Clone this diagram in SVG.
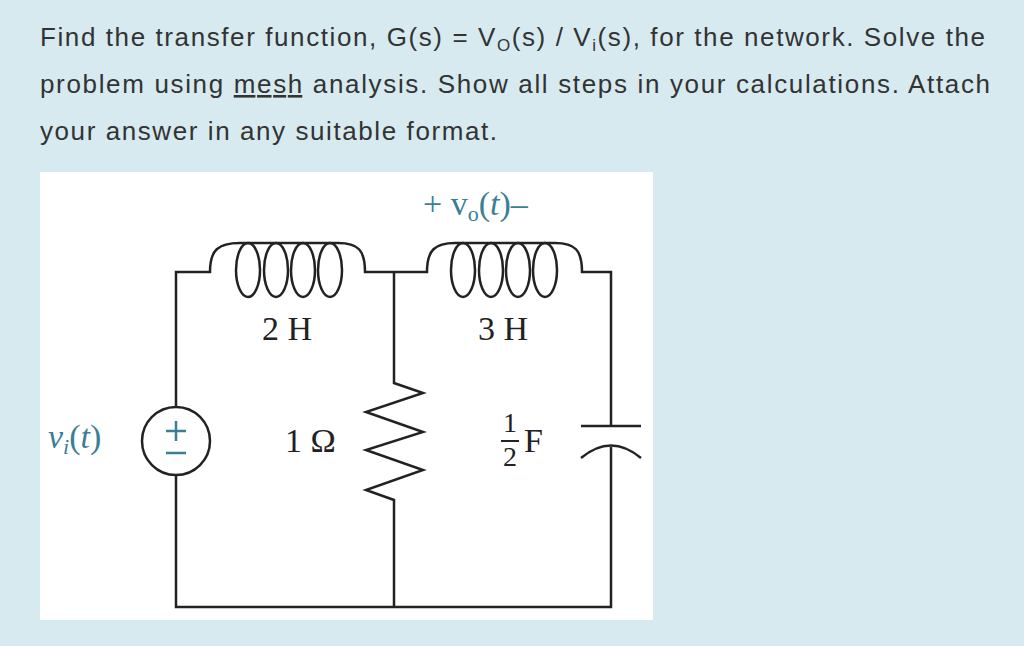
<svg xmlns="http://www.w3.org/2000/svg" width="1024" height="646" viewBox="0 0 1024 646">
<style>
.q{font-family:"Liberation Sans",Arial,sans-serif;font-size:26px;fill:#333}
.w{fill:none;stroke:#222;stroke-width:2.5}
.s{font-family:"Liberation Serif","Times New Roman",serif;font-size:34px;fill:#222}
.t{font-family:"Liberation Serif","Times New Roman",serif;font-size:34px;fill:#3a7f96}
</style>
<rect width="1024" height="646" fill="#d6eaf0"/>
<g id="question">
<text class="q" x="40" y="46" textLength="945" lengthAdjust="spacing">Find the transfer function, G(s) = V<tspan font-size="17" dy="5">O</tspan><tspan dy="-5">(s) / V</tspan><tspan font-size="17" dy="5">i</tspan><tspan dy="-5">(s), for the network. Solve the</tspan></text>
<text class="q" x="40" y="93" textLength="950" lengthAdjust="spacing">problem using <tspan text-decoration="underline">mesh</tspan> analysis. Show all steps in your calculations. Attach</text>
<text class="q" x="40" y="140" textLength="457" lengthAdjust="spacing">your answer in any suitable format.</text>
</g>
<rect x="40" y="172" width="613" height="448" fill="#fff"/>
<g id="connectors">
<path class="w" d="M176,407 V272 H210 C210,250 218,243 240,243 H338 C358,243 365,250 365,272 H427 C427,250 435,243 455,243 H555 C575,243 582,250 582,272 H611 V426"/>
<path class="w" d="M394,272 V383 L423,393 L366,412 L423,432 L366,450 L423,470 L366,490 L394,500 V607"/>
<path class="w" d="M176,475 V607 H611 V447"/>
</g>
<g id="L1" class="w">
<ellipse cx="248" cy="270" rx="12" ry="27"/><ellipse cx="276" cy="270" rx="12" ry="27"/><ellipse cx="303" cy="270" rx="12" ry="27"/><ellipse cx="330" cy="270" rx="12" ry="27"/>
</g>
<g id="L2" class="w">
<ellipse cx="463" cy="270" rx="12" ry="27"/><ellipse cx="491" cy="270" rx="12" ry="27"/><ellipse cx="518" cy="270" rx="12" ry="27"/><ellipse cx="545" cy="270" rx="12" ry="27"/>
</g>
<text class="s" x="287" y="340" text-anchor="middle">2 H</text>
<text class="s" x="503" y="340" text-anchor="middle">3 H</text>
<text class="t" x="423" y="215">+ v<tspan font-size="22" dy="6">o</tspan><tspan dy="-6">(<tspan font-style="italic">t</tspan>)–</tspan></text>
<g id="source">
<circle class="w" cx="176" cy="441" r="34"/>
<path d="M166,431 H186 M176,421 V441 M166,453 H186" stroke="#3a7f96" stroke-width="2.5"/>
<text class="t" x="48" y="448" font-style="italic">v<tspan font-size="22" dy="6">i</tspan><tspan dy="-6" font-style="normal">(<tspan font-style="italic">t</tspan>)</tspan></text>
</g>
<text class="s" x="285" y="452">1 Ω</text>
<g id="cap">
<path class="w" d="M581,426 H641 M581,458 Q611,433 641,458"/>
<text x="510" y="432" text-anchor="middle" font-family="Liberation Serif,serif" font-size="28" fill="#222">1</text>
<line x1="501" y1="441" x2="519" y2="441" stroke="#222" stroke-width="2"/>
<text x="510" y="466" text-anchor="middle" font-family="Liberation Serif,serif" font-size="28" fill="#222">2</text>
<text class="s" x="524" y="452">F</text>
</g>
</svg>
